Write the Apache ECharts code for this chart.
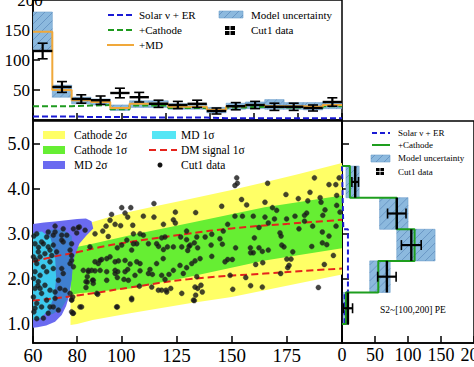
<!DOCTYPE html>
<html><head><meta charset="utf-8">
<script src="https://cdn.jsdelivr.net/npm/echarts@6/dist/echarts.min.js"></script>
<style>html,body{margin:0;padding:0;background:#fff}#c{width:474px;height:367px}</style>
</head><body><div id="c"></div>
<script>
const FONT = '"Liberation Serif","Times New Roman",serif';

// ---------- top panel (histogram over x) ----------
const topBinEdges = [60, 68.75, 77.5, 86.25, 95, 103.75, 112.5, 121.25, 130, 138.75, 147.5, 156.25, 165, 173.75, 182.5, 191.25, 200];
const topData     = [115, 55, 35, 33, 45, 38, 27, 25, 27, 15, 23, 25, 22, 22, 20, 30];
const topDataErr  = [13, 9, 7, 7, 8, 8, 6, 6, 6, 5, 6, 6, 6, 6, 5, 7];
const topMD       = [147, 50, 33, 30, 20, 27, 27, 22, 22, 17, 23, 25, 23, 23, 22, 25];
const topCathode  = [23, 23, 24, 25, 18, 24, 24, 20, 20, 15, 21, 22, 21, 21, 20, 23];
const topSolar    = [6, 6, 5, 5, 5, 4, 4, 4, 4, 3, 3, 3, 3, 3, 3, 3];
const topUncLow   = [117, 38, 27, 25, 16, 21, 21, 18, 18, 12, 18, 19, 18, 18, 17, 19];
const topUncHigh  = [180, 58, 38, 35, 25, 32, 32, 27, 27, 21, 28, 30, 34, 29, 29, 30];
const topYTicks   = [50, 100, 150, 200];

// ---------- main panel ----------
const mainXLabels = [60, 80, 100, 125, 150, 175];
const mainYLabels = [1, 2, 3, 4, 5];
const cathode2sUpper = [[77,3.1],[87,3.26],[95,3.38],[105,3.5],[117,3.63],[130,3.76],[150,3.97],[165,4.14],[180,4.32],[200,4.57]];
const cathode2sLower = [[77,0.98],[80,1.0],[87,1.09],[104,1.24],[131,1.46],[150,1.6],[165,1.75],[180,1.9],[200,2.1]];
const cathode1sUpper = [[77,2.68],[87,2.78],[104,2.97],[131,3.24],[165,3.59],[200,3.85]];
const cathode1sLower = [[77,1.65],[81,1.68],[104,1.79],[131,2.05],[165,2.41],[200,2.68]];
const md2sPoly = [[60,3.22],[65,3.25],[70,3.27],[75,3.3],[80,3.33],[84,3.34],[86.5,3.28],[87.3,3.12],[84,2.95],[81,2.78],[78.5,2.45],[77.5,2.0],[76.5,1.65],[75,1.4],[73,1.2],[70,1.05],[66,0.97],[62,0.93],[60,0.92]];
const mdMidPoly = [[66,3.08],[70,3.1],[74,3.08],[77.5,2.95],[78,2.5],[77.5,2.0],[76,1.6],[73,1.35],[69,1.22],[66,1.2]];
const md1sPoly = [[60,3.02],[64,3.05],[68,2.9],[70,2.5],[70.5,2.0],[69.5,1.6],[67,1.3],[63,1.12],[60,1.1]];
const dmUpper = [[60,2.38],[70,2.5],[80,2.59],[90,2.7],[104,2.82],[130,3.0],[150,3.12],[175,3.22],[200,3.31]];
const dmLower = [[60,1.52],[81,1.64],[104,1.81],[130,1.99],[165,2.12],[200,2.23]];
const cut1Points = [
[100.2,3.58],[104.3,3.58],[114.8,3.67],[95.6,3.43],[101.7,3.46],[102.9,3.37],[110.0,3.39],[114.8,3.37],[124.5,3.48],[94.9,3.30],[97.2,3.21],[99.7,3.18],[93.1,3.17],[105.2,3.19],[119.1,3.21],[124.5,3.24],[123.6,3.31],
[88.1,3.00],[91.6,3.06],[94.1,2.94],[108.5,3.00],[118.3,2.91],[126.9,2.93],[129.6,2.87],[112.3,2.78],[116.9,2.72],[119.1,2.65],[120.9,2.71],[105.5,2.78],[98.2,2.69],[104.7,2.64],
[91.1,2.43],[94.9,2.49],[89.6,2.34],[98.7,2.40],[101.7,2.41],[104.0,2.33],[107.0,2.38],[85.1,2.19],[86.6,2.19],[88.1,2.18],[97.2,2.19],[98.4,2.16],[102.9,2.21],[108.5,2.18],[113.0,2.21],[114.1,2.10],
[84.6,2.05],[87.3,1.97],[93.4,1.97],[84.0,1.94],[87.3,1.90],[98.2,2.03],[101.2,1.99],[106.2,2.08],[118.3,2.08],[119.8,1.99],[121.6,2.10],[128.1,2.12],[84.0,1.81],[108.2,1.84],[116.8,1.75],[120.3,1.75],[122.4,1.79],[127.4,1.68],[89.3,1.66],
[78.0,1.60],[77.5,1.54],[82.0,1.38],[104.7,1.54],[98.2,1.38],[78.0,1.24],
[61.7,3.00],[70.0,3.04],[73.7,3.11],[78.3,3.11],[81.0,3.15],[66.2,2.93],[73.0,2.97],[79.8,3.02],[70.0,3.17],
[60.9,2.78],[63.9,2.82],[66.9,2.71],[69.2,2.75],[70.7,2.60],[73.7,2.82],[62.4,2.60],[65.4,2.56],[76.8,2.64],[77.5,2.52],[60.2,2.49],[68.5,2.52],
[61.7,2.34],[64.7,2.27],[67.7,2.38],[73.0,2.23],[60.9,2.16],[63.2,2.08],[66.2,2.16],[60.3,2.01],[76.8,2.34],[77.5,2.41],[78.3,2.27],
[62.4,1.94],[65.4,1.86],[60.9,1.79],[67.7,1.75],[63.9,1.68],[72.2,1.79],[74.5,1.75],[60.2,1.60],[66.2,1.53],[70.0,1.57],[61.7,1.46],
[63.9,1.38],[69.2,1.38],[60.4,1.27],[66.9,1.24],[71.5,1.31],[61.7,1.12],
[66.9,3.04],[69.2,2.97],[80.5,3.14],[83.6,3.08],
[64.7,2.78],[67.7,2.64],[73.0,2.86],[75.3,2.97],[77.5,2.78],[63.2,2.49],[69.2,2.23],[71.5,1.97],[73.7,2.12],[63.2,1.79],[70.0,1.71],[76.8,1.68],[77.5,1.53],[78.3,1.24],[60.9,1.35],[67.7,1.38],[64.7,1.13],
[61.2,2.42],[62.2,1.85],[60.4,2.95],[62.5,2.70],
[85.8,2.71],[88.1,2.38],[90.4,2.41],[93.4,2.45],[97.2,2.38],[100.2,2.75],[102.5,2.86],[105.5,3.00],[107.0,2.78],[110.0,2.97],[116.0,2.78],[119.8,2.93],[123.6,2.71],[127.4,2.71],[131.2,2.75],[134.2,2.93],[82.8,2.19],[85.1,2.16],[87.0,1.97],[84.6,1.93],[90.4,2.19],[93.4,2.16],[97.2,2.12],[101.7,2.16],[103.2,1.97],[108.5,2.34],[112.3,2.12],[113.8,1.82],[116.0,2.34],[119.0,2.45],[123.6,2.19],[126.6,2.30],[131.9,2.34],[134.2,2.05],[118.3,1.75],[120.6,1.71],[133.4,1.82],[104.7,1.57],[97.9,1.38],[88.9,1.68],[81.3,1.38],[77.5,1.27],[132.7,1.53],
[152.3,4.24],[151.5,4.07],[152.6,4.12],[166.3,4.12],[187.5,4.24],[194.1,4.09],[197.2,4.09],[198.7,4.24],[185.5,3.92],[174.6,3.87],[190.1,3.80],[197.6,3.85],[154.5,3.76],[165.1,3.70],[180.2,3.78],[184.5,3.73],[190.5,3.70],[156.8,3.64],[145.5,3.61],[133.7,3.47],[197.6,3.63],[168.5,3.58],[192.3,3.53],[199.1,3.48],
[151.5,3.39],[154.9,3.39],[159.8,3.39],[165.1,3.37],[170.4,3.52],[174.9,3.33],[178.7,3.39],[183.0,3.41],[184.0,3.46],[191.3,3.41],[169.4,3.33],[148.2,3.21],[166.6,3.24],[183.0,3.28],[186.7,3.17],[197.3,3.17],[180.5,3.11],[162.4,3.14],[171.9,3.02],[172.4,2.95],[191.1,3.04],[194.1,2.95],[146.2,3.06],[129.6,3.06],
[138.0,2.93],[141.0,2.99],[144.7,2.89],[133.1,2.80],[130.7,2.72],[134.6,2.69],[140.7,2.75],[145.8,2.77],[130.1,2.63],[151.8,2.69],[160.3,2.91],[158.5,2.69],[162.4,2.69],[158.6,2.58],[159.8,2.58],[163.9,2.61],[166.6,2.64],[172.7,2.75],[173.7,2.71],[177.7,2.60],[186.3,2.72],[191.1,2.80],[193.1,2.76],[196.1,2.52],
[141.0,2.50],[135.7,2.45],[133.4,2.40],[147.0,2.38],[148.2,2.43],[150.3,2.43],[160.9,2.32],[164.1,2.36],[175.0,2.44],[176.9,2.44],[176.0,2.30],[175.4,2.25],[192.0,2.32],[129.6,2.25],
[149.3,2.08],[156.4,2.03],[172.2,2.12],[150.5,1.77],[158.6,1.85],[163.9,1.82],[189.3,1.81],[136.1,1.86],[134.6,1.79],[136.7,1.71],[133.7,1.64],[133.1,1.52]
];

// ---------- right panel (histogram over y) ----------
const rightBinEdges = [1.0, 1.7, 2.4, 3.1, 3.8, 4.5];
const rightData     = [9, 68, 105, 83, 20];
const rightDataErr  = [7, 14, 15, 14, 5];
const rightCathode  = [6, 55, 110, 83, 12];
const rightSolar    = [4, 9, 9, 2, 1];
const rightUncLow   = [2, 42, 83, 57, 6];
const rightUncHigh  = [8, 73, 141, 100, 26];
const rightXLabels  = [0, 50, 100, 150, 200];

// ---------- helpers ----------
function hatchBox(x0, y0, x1, y1) {
  const ch = [{type:'rect', shape:{x:x0, y:y0, width:x1-x0, height:y1-y0}, style:{fill:'#8cb9de', stroke:'#6b9dcb', lineWidth:0.6}}];
  const s = 8;
  for (let c = x0 + y0 + s/2; c < x1 + y1; c += s) {
    const xa = Math.max(x0, c - y1), xb = Math.min(x1, c - y0);
    if (xb > xa) ch.push({type:'line', shape:{x1:xa, y1:c-xa, x2:xb, y2:c-xb}, style:{stroke:'#5a88ba', lineWidth:0.7}});
  }
  return {type:'group', children:ch};
}
function polygonSeries(points, color, z) {
  return {type:'custom', xAxisIndex:1, yAxisIndex:1, data:[[100,3]], encode:{x:0,y:1}, clip:true, silent:true, z:z,
    renderItem:(p, api) => ({type:'polygon', shape:{points: points.map(q => api.coord(q))}, style:{fill:color}})};
}
function bandSeries(upper, lower, color, z) {
  return polygonSeries(upper.concat(lower.slice().reverse()), color, z);
}
function stepX(edges, vals) { const out = []; vals.forEach((v,i) => { out.push([edges[i], v], [edges[i+1], v]); }); return out; }
function stepY(edges, vals) {
  const out = [[0, edges[edges.length-1]]];
  for (let i = vals.length-1; i >= 0; i--) out.push([vals[i], edges[i+1]], [vals[i], edges[i]]);
  out.push([0, edges[0]]);
  return out;
}
const L = (x1,y1,x2,y2,w,col) => ({type:'line', shape:{x1,y1,x2,y2}, style:{stroke:col||'#000', lineWidth:w}});

const axisLineStyle = {color:'#000', width:1.5};
const chart = echarts.init(document.getElementById('c'), null, {renderer:'svg'});

const legendText = (x, y, text, size) => ({type:'text', z:100, style:{x, y, text, fill:'#000', fontSize:size, fontFamily:FONT, align:'left', verticalAlign:'middle'}});
const graphic = [
  // top legend
  {type:'line', z:100, shape:{x1:108,y1:15,x2:134,y2:15}, style:{stroke:'#1a1ad4', lineWidth:2, lineDash:[6,3]}},
  legendText(139, 15, 'Solar ν + ER', 11),
  {type:'line', z:100, shape:{x1:108,y1:30,x2:134,y2:30}, style:{stroke:'#1e9a1e', lineWidth:2, lineDash:[6,3]}},
  legendText(139, 30, '+Cathode', 11),
  {type:'line', z:100, shape:{x1:107,y1:45,x2:134,y2:45}, style:{stroke:'#f0a83a', lineWidth:2}},
  legendText(139, 45, '+MD', 11),
  Object.assign(hatchBox(219, 11, 243, 18), {z:100}),
  legendText(251, 15, 'Model uncertainty', 11),
  {type:'rect', z:100, shape:{x:225,y:26,width:10,height:9}, style:{fill:'#000'}},
  {type:'line', z:101, shape:{x1:225,y1:30.5,x2:235,y2:30.5}, style:{stroke:'#fff', lineWidth:1}},
  {type:'line', z:101, shape:{x1:230,y1:26,x2:230,y2:35}, style:{stroke:'#fff', lineWidth:1}},
  legendText(251, 30, 'Cut1 data', 11),
  // main legend
  {type:'rect', z:100, shape:{x:43,y:131,width:22,height:8}, style:{fill:'#ffff66'}},
  legendText(74, 135, 'Cathode 2σ', 11.5),
  {type:'rect', z:100, shape:{x:43,y:146,width:22,height:8}, style:{fill:'#66ee33'}},
  legendText(74, 150, 'Cathode 1σ', 11.5),
  {type:'rect', z:100, shape:{x:43,y:161,width:22,height:8}, style:{fill:'#6a6af0'}},
  legendText(74, 165, 'MD 2σ', 11.5),
  {type:'rect', z:100, shape:{x:152,y:131,width:24,height:8}, style:{fill:'#55e6f5'}},
  legendText(181, 135, 'MD 1σ', 11.5),
  {type:'line', z:100, shape:{x1:149,y1:150,x2:177,y2:150}, style:{stroke:'#e5231c', lineWidth:2, lineDash:[7,4]}},
  legendText(181, 150, 'DM signal 1σ', 11.5),
  {type:'circle', z:100, shape:{cx:160,cy:165,r:2.5}, style:{fill:'#111'}},
  legendText(181, 165, 'Cut1 data', 11.5),
  // right legend
  {type:'line', z:100, shape:{x1:372,y1:133,x2:390,y2:133}, style:{stroke:'#1a1ad4', lineWidth:2, lineDash:[5,3]}},
  legendText(398, 133, 'Solar ν + ER', 9),
  {type:'line', z:100, shape:{x1:372,y1:145,x2:390,y2:145}, style:{stroke:'#1e9e1e', lineWidth:2}},
  legendText(398, 145, '+Cathode', 9),
  Object.assign(hatchBox(371, 155, 390, 162), {z:100}),
  legendText(398, 158, 'Model uncertainty', 9),
  {type:'rect', z:100, shape:{x:376,y:168,width:8,height:7}, style:{fill:'#000'}},
  {type:'line', z:101, shape:{x1:376,y1:171.5,x2:384,y2:171.5}, style:{stroke:'#fff', lineWidth:0.8}},
  {type:'line', z:101, shape:{x1:380,y1:168,x2:380,y2:175}, style:{stroke:'#fff', lineWidth:0.8}},
  legendText(398, 172, 'Cut1 data', 9),
  legendText(380, 310, 'S2~[100,200] PE', 9.5)
];

const option = {
  animation:false,
  backgroundColor:'#fff',
  textStyle:{fontFamily:FONT, color:'#000'},
  grid:[
    {left:33, top:0, width:309, height:120, show:true, borderColor:'#000', borderWidth:1.5, outerBoundsMode:'none', containLabel:false},
    {left:33, top:121, width:309, height:222, show:true, borderColor:'#000', borderWidth:1.5, outerBoundsMode:'none', containLabel:false},
    {left:342, top:121, width:132, height:222, show:true, borderColor:'#000', borderWidth:1.5, outerBoundsMode:'none', containLabel:false}
  ],
  xAxis:[
    {gridIndex:0, type:'value', min:60, max:200, interval:20, axisLine:{onZero:false, lineStyle:axisLineStyle},
     axisTick:{inside:true, length:7, lineStyle:axisLineStyle}, axisLabel:{show:false}, splitLine:{show:false}},
    {gridIndex:1, type:'value', min:60, max:200, axisLine:{onZero:false, lineStyle:axisLineStyle},
     axisTick:{inside:true, length:7, lineStyle:axisLineStyle, customValues:mainXLabels},
     axisLabel:{customValues:mainXLabels, fontSize:19, fontFamily:FONT, color:'#000', margin:3}, splitLine:{show:false}},
    {gridIndex:2, type:'value', min:0, max:200, axisLine:{onZero:false, lineStyle:axisLineStyle},
     axisTick:{inside:true, length:7, lineStyle:axisLineStyle, customValues:rightXLabels},
     axisLabel:{customValues:rightXLabels, fontSize:18, fontFamily:FONT, color:'#000', margin:3, alignMaxLabel:'center', alignMinLabel:'center', hideOverlap:false}, splitLine:{show:false}}
  ],
  yAxis:[
    {gridIndex:0, type:'value', min:0, max:200, axisLine:{onZero:false, lineStyle:axisLineStyle},
     axisTick:{inside:true, length:7, lineStyle:axisLineStyle, customValues:topYTicks},
     axisLabel:{customValues:topYTicks, fontSize:17, fontFamily:FONT, color:'#000', margin:3, alignMaxLabel:'center'}, splitLine:{show:false}},
    {gridIndex:1, type:'value', min:0.58, max:5.5, axisLine:{onZero:false, lineStyle:axisLineStyle},
     axisTick:{inside:true, length:7, lineStyle:axisLineStyle, customValues:mainYLabels},
     axisLabel:{customValues:mainYLabels, formatter:v => v.toFixed(1), fontSize:18, fontFamily:FONT, color:'#000', margin:3}, splitLine:{show:false}},
    {gridIndex:2, type:'value', min:0.58, max:5.5, axisLine:{onZero:false, lineStyle:axisLineStyle},
     axisTick:{inside:true, length:7, lineStyle:axisLineStyle, customValues:mainYLabels},
     axisLabel:{show:false}, splitLine:{show:false}}
  ],
  series:[
    // top panel
    {type:'custom', xAxisIndex:0, yAxisIndex:0, clip:true, silent:true, z:2,
     data: topUncLow.map((lo,i) => [topBinEdges[i], topBinEdges[i+1], lo, topUncHigh[i]]), encode:{x:[0,1], y:[2,3]},
     renderItem:(p, api) => { const a = api.coord([api.value(0), api.value(3)]), b = api.coord([api.value(1), api.value(2)]); return hatchBox(a[0], a[1], b[0], b[1]); }},
    {type:'line', xAxisIndex:0, yAxisIndex:0, data:stepX(topBinEdges, topCathode), showSymbol:false, silent:true, z:3,
     lineStyle:{color:'#1e9a1e', width:2, type:[6,3]}},
    {type:'line', xAxisIndex:0, yAxisIndex:0, data:stepX(topBinEdges, topSolar), showSymbol:false, silent:true, z:3,
     lineStyle:{color:'#1a1ad4', width:2, type:[6,3]}},
    {type:'line', xAxisIndex:0, yAxisIndex:0, data:stepX(topBinEdges, topMD), showSymbol:false, silent:true, z:4,
     lineStyle:{color:'#f0a83a', width:2}},
    {type:'custom', xAxisIndex:0, yAxisIndex:0, clip:false, silent:true, z:6,
     data: topData.map((v,i) => [topBinEdges[i], topBinEdges[i+1], v, topDataErr[i]]), encode:{x:[0,1], y:[2]},
     renderItem:(p, api) => {
       const x0 = api.value(0), x1 = api.value(1), v = api.value(2), e = api.value(3), xm = (x0+x1)/2;
       const a = api.coord([x0, v]), b = api.coord([x1, v]), t = api.coord([xm, v+e]), d = api.coord([xm, v-e]);
       return {type:'group', children:[L(a[0],a[1],b[0],b[1],2.4), L(t[0],t[1],d[0],d[1],2.2), L(t[0]-5,t[1],t[0]+5,t[1],1.6), L(d[0]-5,d[1],d[0]+5,d[1],1.6)]};
     }},
    // main panel
    bandSeries(cathode2sUpper, cathode2sLower, '#ffff66', 1),
    bandSeries(cathode1sUpper, cathode1sLower, '#66ee33', 2),
    polygonSeries(md2sPoly, '#6a6af0', 3),
    polygonSeries(mdMidPoly, '#3f7fd0', 4),
    polygonSeries(md1sPoly, '#3ccaee', 5),
    {type:'line', xAxisIndex:1, yAxisIndex:1, data:dmUpper, smooth:true, showSymbol:false, silent:true, z:6,
     lineStyle:{color:'#e5231c', width:2, type:[7,4]}},
    {type:'line', xAxisIndex:1, yAxisIndex:1, data:dmLower, smooth:true, showSymbol:false, silent:true, z:6,
     lineStyle:{color:'#e5231c', width:2, type:[7,4]}},
    {type:'scatter', xAxisIndex:1, yAxisIndex:1, data:cut1Points, symbolSize:5, silent:true, z:7,
     itemStyle:{color:'#151515', borderColor:'#333', borderWidth:0.5}},
    // right panel
    {type:'custom', xAxisIndex:2, yAxisIndex:2, clip:true, silent:true, z:2,
     data: rightUncLow.map((lo,i) => [rightBinEdges[i], rightBinEdges[i+1], lo, rightUncHigh[i]]), encode:{y:[0,1], x:[2,3]},
     renderItem:(p, api) => { const a = api.coord([api.value(2), api.value(1)]), b = api.coord([api.value(3), api.value(0)]); return hatchBox(a[0], a[1], b[0], b[1]); }},
    {type:'line', xAxisIndex:2, yAxisIndex:2, data:stepY(rightBinEdges, rightSolar), showSymbol:false, silent:true, z:3,
     lineStyle:{color:'#1a1ad4', width:2, type:[5,3]}},
    {type:'line', xAxisIndex:2, yAxisIndex:2, data:stepY(rightBinEdges, rightCathode), showSymbol:false, silent:true, z:4,
     lineStyle:{color:'#1e9e1e', width:2}},
    {type:'custom', xAxisIndex:2, yAxisIndex:2, clip:false, silent:true, z:6,
     data: rightData.map((v,i) => [rightBinEdges[i], rightBinEdges[i+1], v, rightDataErr[i]]), encode:{y:[0,1], x:[2]},
     renderItem:(p, api) => {
       const y0 = api.value(0), y1 = api.value(1), v = api.value(2), e = api.value(3), ym = (y0+y1)/2;
       const a = api.coord([v, y1]), b = api.coord([v, y0]), l = api.coord([v-e, ym]), r = api.coord([v+e, ym]);
       return {type:'group', children:[L(a[0],a[1],b[0],b[1],2.4), L(l[0],l[1],r[0],r[1],2.2), L(l[0],l[1]-5,l[0],l[1]+5,1.6), L(r[0],r[1]-5,r[0],r[1]+5,1.6)]};
     }}
  ],
  graphic: graphic
};
chart.setOption(option);
</script></body></html>
